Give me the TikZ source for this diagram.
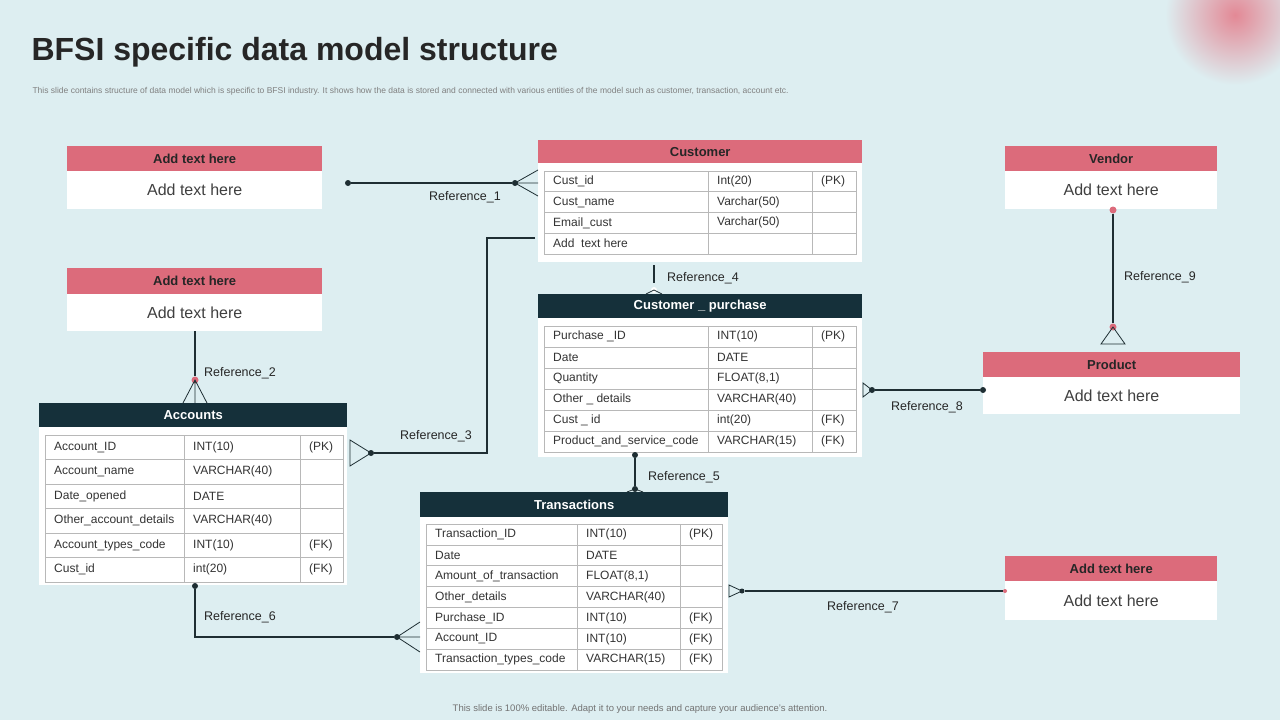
\documentclass[tikz,border=0pt]{standalone}
\usepackage{fontspec}
\setmainfont{Liberation Sans}
\usetikzlibrary{positioning, arrows.meta}
\definecolor{bgblue}{HTML}{DDEEF1}
\definecolor{pinkhd}{HTML}{DC6B7B}
\definecolor{darkhd}{HTML}{15303A}
\definecolor{gridgray}{HTML}{B8B8B8}
\definecolor{linkcol}{HTML}{1E2E33}
\tikzset{
    % Estilos
    pinkhead/.style={rectangle, anchor=north west, fill=pinkhd, text=black!85, font=\bfseries\fontsize{13}{15}\selectfont, inner sep=0pt},
    darkhead/.style={rectangle, anchor=north west, fill=darkhd, text=white, font=\bfseries\fontsize{13}{15}\selectfont, inner sep=0pt},
    bodybox/.style={rectangle, anchor=north west, fill=white, text=black!75, font=\fontsize{16}{18}\selectfont, inner sep=0pt},
    celltxt/.style={anchor=west, text=black!80, font=\fontsize{12}{14}\selectfont, inner sep=0pt},
    reftxt/.style={text=black!85, font=\fontsize{12.5}{14}\selectfont},
    link/.style={draw=linkcol, line width=1.1pt},
    crow/.style={draw=linkcol, line width=0.8pt},
    bdot/.style={circle, fill=linkcol, inner sep=0pt, minimum size=6pt},
    pdot/.style={circle, fill=pinkhd, inner sep=0pt, minimum size=7pt},
    wdot/.style={circle, fill=white, inner sep=0pt, minimum size=6pt}
}
% rejilla de tabla: izq, der, arriba, alto fila, col1, col2, filas, datos
\newcommand\ergrid[8]{%
  \foreach \a/\b/\c [count=\i] in {#8} {
    \node[celltxt] at (#1+9,{#3+(\i-0.5)*#4}) {\a};
    \node[celltxt] at (#5+9,{#3+(\i-0.5)*#4}) {\b};
    \node[celltxt] at (#6+9,{#3+(\i-0.5)*#4}) {\c};
    \draw[gridgray, line width=0.8pt] (#1,{#3+\i*#4}) -- (#2,{#3+\i*#4});
  }
  \draw[gridgray, line width=1pt] (#1,#3) rectangle (#2,{#3+#7*#4});
  \draw[gridgray, line width=0.8pt] (#5,#3) -- (#5,{#3+#7*#4}) (#6,#3) -- (#6,{#3+#7*#4});
}

\begin{document}
\begin{tikzpicture}[x=1pt, y=-1pt]
\useasboundingbox (0,0) rectangle (1280,720);
\fill[bgblue] (0,0) rectangle (1280,720);
\shade[inner color=pinkhd!80, outer color=bgblue] (1235,15) circle (70);

% Titulo
\node[anchor=west, font=\bfseries\fontsize{32}{36}\selectfont, text=black!85] (title) at (28,52) {BFSI specific data model structure};
\node[anchor=west, font=\fontsize{8.5}{10}\selectfont, text=black!50] (sub) at (29,91) {This slide contains structure of data model which is specific to BFSI industry. It shows how the data is stored and connected with various entities of the model such as customer, transaction, account etc.};
\node[font=\fontsize{9.5}{11}\selectfont, text=black!55] (foot) at (640,709) {This slide is 100\% editable. Adapt it to your needs and capture your audience's attention.};

% Cajas de texto
\node[pinkhead, minimum width=255, minimum height=25] (t1-h) at (67,146) {Add text here};
\node[bodybox, minimum width=255, minimum height=38] (t1) at (67,171) {Add text here};
\node[pinkhead, minimum width=255, minimum height=26] (t2-h) at (67,268) {Add text here};
\node[bodybox, minimum width=255, minimum height=37] (t2) at (67,294) {Add text here};
\node[pinkhead, minimum width=212, minimum height=25] (vend-h) at (1005,146) {Vendor};
\node[bodybox, minimum width=212, minimum height=38] (vend) at (1005,171) {Add text here};
\node[pinkhead, minimum width=257, minimum height=25] (prod-h) at (983,352) {Product};
\node[bodybox, minimum width=257, minimum height=37] (prod) at (983,377) {Add text here};
\node[pinkhead, minimum width=212, minimum height=25] (t3-h) at (1005,556) {Add text here};
\node[bodybox, minimum width=212, minimum height=39] (t3) at (1005,581) {Add text here};

% Tablas
\node[pinkhead, minimum width=324, minimum height=23] (cust-h) at (538,140) {Customer};
\node[bodybox, minimum width=324, minimum height=99] (cust) at (538,163) {};
\ergrid{544}{856}{171}{20.75}{708}{812}{4}{Cust\_id/Int(20)/(PK), Cust\_name/Varchar(50)/, Email\_cust/Varchar(50)/, Add\ \ text here//}
\node[darkhead, minimum width=324, minimum height=24] (purch-h) at (538,294) {Customer \_ purchase};
\node[bodybox, minimum width=324, minimum height=139] (purch) at (538,318) {};
\ergrid{544}{856}{326}{21}{708}{812}{6}{Purchase \_ID/INT(10)/(PK), Date/DATE/, Quantity/{FLOAT(8,1)}/, Other \_ details/VARCHAR(40)/, Cust \_ id/int(20)/(FK), Product\_and\_service\_code/VARCHAR(15)/(FK)}
\node[darkhead, minimum width=308, minimum height=24] (acc-h) at (39,403) {Accounts};
\node[bodybox, minimum width=308, minimum height=158] (acc) at (39,427) {};
\ergrid{45}{343}{435}{24.5}{184}{300}{6}{Account\_ID/INT(10)/(PK), Account\_name/VARCHAR(40)/, Date\_opened/DATE/, Other\_account\_details/VARCHAR(40)/, Account\_types\_code/INT(10)/(FK), Cust\_id/int(20)/(FK)}
\node[darkhead, minimum width=308, minimum height=25] (trans-h) at (420,492) {Transactions};
\node[bodybox, minimum width=308, minimum height=156] (trans) at (420,517) {};
\ergrid{426}{722}{524}{20.9}{577}{680}{7}{Transaction\_ID/INT(10)/(PK), Date/DATE/, Amount\_of\_transaction/{FLOAT(8,1)}/, Other\_details/VARCHAR(40)/, Purchase\_ID/INT(10)/(FK), Account\_ID/INT(10)/(FK), Transaction\_types\_code/VARCHAR(15)/(FK)}

% Puntos
\node[bdot] (r1a) at (348,183) {};
\node[bdot] (r1b) at (515,183) {};
\node[pdot] (r2b) at (195,380) {};
\node[bdot] (r3b) at (371,453) {};
\node[wdot] (r4b) at (654,290) {};
\node[bdot] (r5a) at (635,455) {};
\node[bdot] (r5b) at (635,489) {};
\node[bdot] (r6a) at (195,586) {};
\node[bdot] (r6b) at (397,637) {};
\node[pdot, minimum size=4pt] (r7a) at (1005,591) {};
\node[bdot, minimum size=5pt] (r7b) at (742,591) {};
\node[bdot] (r8a) at (983,390) {};
\node[bdot] (r8b) at (872,390) {};
\node[pdot] (r9a) at (1113,210) {};
\node[pdot] (r9b) at (1113,327) {};

% Conectores
\draw[link] (r1a) -- (r1b);
\draw[crow] (538,170) -- (r1b.center) -- (538,196) (r1b.center) -- (538,183);
\draw[link] (t2.south -| r2b) -- (r2b);
\draw[crow] (183,403) -- (r2b.center) -- (207,403) (r2b.center) -- (195,403);
\draw[link] (535,238) -- (487,238) |- (r3b);
\draw[crow] (350,440) -- (r3b.center) -- (350,466) -- cycle;
\draw[link] (654,265) -- (654,283);
\draw[crow] (646,294) -- (r4b.center) -- (662,294);
\draw[link] (r5a) -- (r5b);
\draw[crow] (627,492) -- (r5b.center) -- (643,492);
\draw[link] (r6a) |- (r6b);
\draw[crow] (420,622) -- (r6b.center) -- (420,652) (r6b.center) -- (420,637);
\draw[link] (r7a) -- (r7b);
\draw[crow] (729,585) -- (r7b.center) -- (729,597) -- cycle;
\draw[link] (r8a) -- (r8b);
\draw[crow] (863,383) -- (r8b.center) -- (863,397) -- cycle;
\draw[link] (r9a) -- (r9b);
\draw[crow] (1101,344) -- (r9b.center) -- (1125,344) -- cycle;

% Etiquetas
\node[reftxt] (l1) at (465,197) {Reference\_1};
\node[reftxt] (l2) at (240,373) {Reference\_2};
\node[reftxt] (l3) at (436,436) {Reference\_3};
\node[reftxt] (l4) at (703,278) {Reference\_4};
\node[reftxt] (l5) at (684,477) {Reference\_5};
\node[reftxt] (l6) at (240,617) {Reference\_6};
\node[reftxt] (l7) at (863,607) {Reference\_7};
\node[reftxt] (l8) at (927,407) {Reference\_8};
\node[reftxt] (l9) at (1160,277) {Reference\_9};
\end{tikzpicture}
\end{document}
